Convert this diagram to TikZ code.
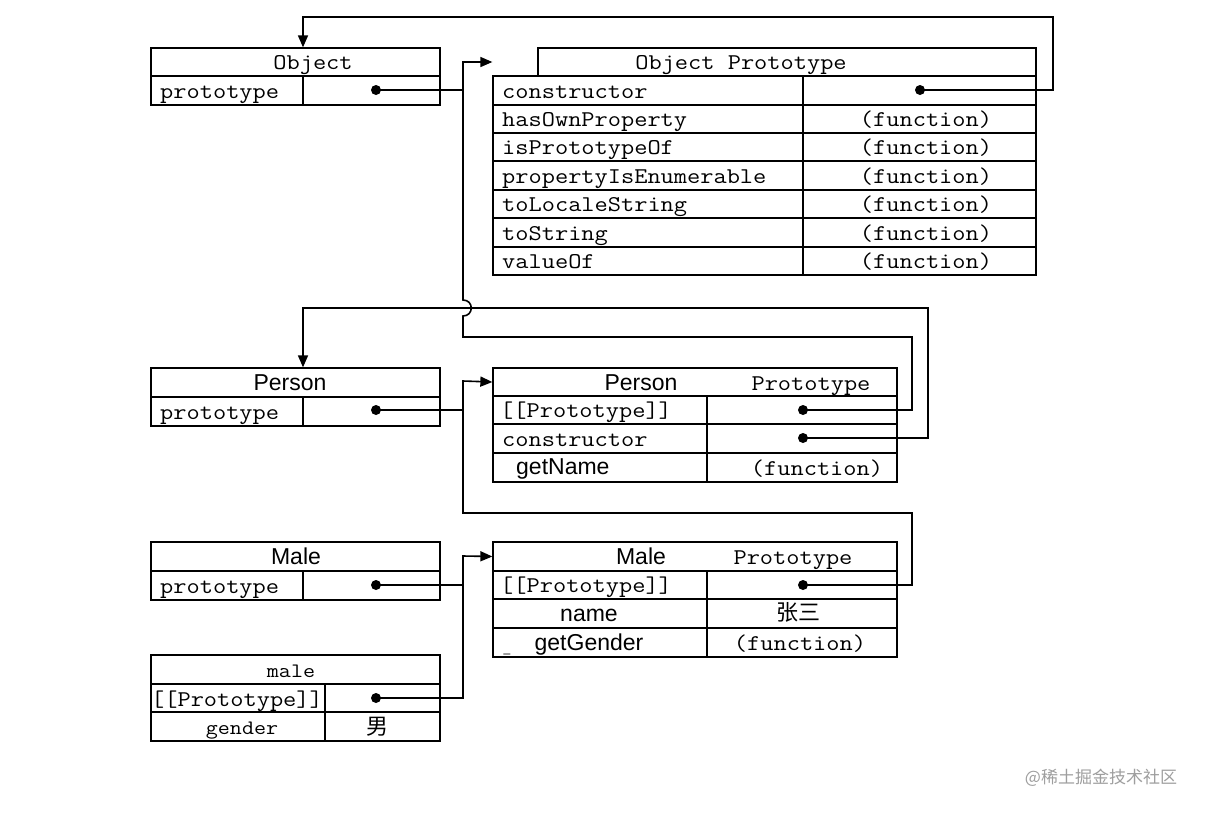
\documentclass[tikz,border=0pt]{standalone}
\usepackage{fontspec}
\setmainfont{Liberation Sans}
\newfontfamily\monof[FakeStretch=1.14]{Latin Modern Mono}
\newfontfamily\cjk{Noto Sans CJK SC}
\usetikzlibrary{fit,arrows.meta}
\tikzset{
  cell/.style={draw, line width=1.3pt, inner sep=0pt},
  mono/.style={font=\monof\fontsize{22.5}{24}\selectfont, inner sep=0pt, anchor=base},
  smono/.style={font=\monof\fontsize{20.5}{22}\selectfont, inner sep=0pt, anchor=base},
  sans/.style={font=\fontsize{23}{25}\selectfont, inner sep=0pt, anchor=base},
  han/.style={font=\cjk\fontsize{22}{24}\selectfont, inner sep=0pt, anchor=base},
  wm/.style={font=\cjk\fontsize{17}{19}\selectfont, text=black!38, inner sep=0pt},
  dot/.style={circle, fill, inner sep=0pt, minimum size=10pt},
  link/.style={line width=1.6pt},
  arr/.style={link, -{Triangle[length=12pt,width=10pt]}},
}
\newcommand\cellbox[5]{\node[cell, fit={(#2,#3) (#4,#5)}] (#1) {};}
\begin{document}
\begin{tikzpicture}[x=1pt,y=-1pt]
\useasboundingbox[fill=white] (0,0) rectangle (1205,812);

% ---- Object
\cellbox{objT}{151}{48}{440}{76}
\cellbox{objA}{151}{76}{303}{105}
\cellbox{objB}{303}{76}{440}{105}
\node[mono] (objTt) at (313,69) {Object};
\node[mono, anchor=base west] (objAt) at (160,98) {prototype};
\node[dot] (objd) at (376,90) {};

% ---- Object Prototype
\cellbox{opT}{538}{48}{1036}{76}
\node[mono] (opTt) at (741,69) {Object Prototype};
\cellbox{opA1}{493}{76}{803}{105}   \cellbox{opB1}{803}{76}{1036}{105}
\cellbox{opA2}{493}{105}{803}{133}  \cellbox{opB2}{803}{105}{1036}{133}
\cellbox{opA3}{493}{133}{803}{161}  \cellbox{opB3}{803}{133}{1036}{161}
\cellbox{opA4}{493}{161}{803}{190}  \cellbox{opB4}{803}{161}{1036}{190}
\cellbox{opA5}{493}{190}{803}{218}  \cellbox{opB5}{803}{190}{1036}{218}
\cellbox{opA6}{493}{218}{803}{247}  \cellbox{opB6}{803}{218}{1036}{247}
\cellbox{opA7}{493}{247}{803}{275}  \cellbox{opB7}{803}{247}{1036}{275}
\node[mono, anchor=base west] (opt1) at (502,98) {constructor};
\node[mono, anchor=base west] (opt2) at (502,126) {hasOwnProperty};
\node[mono, anchor=base west] (opt3) at (502,154) {isPrototypeOf};
\node[mono, anchor=base west] (opt4) at (502,183) {propertyIsEnumerable};
\node[mono, anchor=base west] (opt5) at (502,211) {toLocaleString};
\node[mono, anchor=base west] (opt6) at (502,240) {toString};
\node[mono, anchor=base west] (opt7) at (502,268) {valueOf};
\node[mono] (opf2) at (926,126) {(function)};
\node[mono] (opf3) at (926,154) {(function)};
\node[mono] (opf4) at (926,183) {(function)};
\node[mono] (opf5) at (926,211) {(function)};
\node[mono] (opf6) at (926,240) {(function)};
\node[mono] (opf7) at (926,268) {(function)};
\node[dot] (opcd) at (920,90) {};

% ---- Person
\cellbox{perT}{151}{368}{440}{397}
\cellbox{perA}{151}{397}{303}{426}
\cellbox{perB}{303}{397}{440}{426}
\node[sans] (perTt) at (290,390) {Person};
\node[mono, anchor=base west] (perAt) at (160,419) {prototype};
\node[dot] (perd) at (376,410) {};

% ---- Person Prototype
\cellbox{ppT}{493}{368}{897}{396}
\node[sans] (ppTt1) at (641,390) {Person};
\node[mono] (ppTt2) at (811,390) {Prototype};
\cellbox{ppA1}{493}{396}{707}{424}  \cellbox{ppB1}{707}{396}{897}{424}
\cellbox{ppA2}{493}{424}{707}{453}  \cellbox{ppB2}{707}{424}{897}{453}
\cellbox{ppA3}{493}{453}{707}{482}  \cellbox{ppB3}{707}{453}{897}{482}
\node[mono, anchor=base west] (ppt1) at (500,417) {[[Prototype]]};
\node[mono, anchor=base west] (ppt2) at (502,446) {constructor};
\node[sans, anchor=base west] (ppt3) at (516,474) {getName};
\node[mono] (ppf3) at (817,475) {(function)};
\node[dot] (pp1d) at (803,410) {};
\node[dot] (pp2d) at (803,438) {};

% ---- Male
\cellbox{malT}{151}{542}{440}{571}
\cellbox{malA}{151}{571}{303}{600}
\cellbox{malB}{303}{571}{440}{600}
\node[sans] (malTt) at (296,564) {Male};
\node[mono, anchor=base west] (malAt) at (160,593) {prototype};
\node[dot] (mald) at (376,585) {};

% ---- Male Prototype
\cellbox{mpT}{493}{542}{897}{571}
\node[sans] (mpTt1) at (641,564) {Male};
\node[mono] (mpTt2) at (793,564) {Prototype};
\cellbox{mpA1}{493}{571}{707}{599}  \cellbox{mpB1}{707}{571}{897}{599}
\cellbox{mpA2}{493}{599}{707}{628}  \cellbox{mpB2}{707}{599}{897}{628}
\cellbox{mpA3}{493}{628}{707}{657}  \cellbox{mpB3}{707}{628}{897}{657}
\node[mono, anchor=base west] (mpt1) at (500,592) {[[Prototype]]};
\node[sans] (mpt2) at (589,621) {name};
\node[han] (mpv2) at (798,620) {张三};
\node[sans] (mpt3) at (589,650) {getGender};
\node[mono] (mpv3) at (800,650) {(function)};
\node[sans, font=\fontsize{12}{12}\selectfont] (mpu) at (507,652) {\_};
\node[dot] (mp1d) at (803,585) {};

% ---- male
\cellbox{mT}{151}{655}{440}{684}
\cellbox{mA1}{151}{684}{325}{712}  \cellbox{mB1}{325}{684}{440}{712}
\cellbox{mA2}{151}{712}{325}{741}  \cellbox{mB2}{325}{712}{440}{741}
\node[smono] (mTt) at (291,677) {male};
\node[mono] (mt1) at (237,706) {[[Prototype]]};
\node[smono] (mt2) at (242,734) {gender};
\node[han] (mv2) at (377,734) {男};
\node[dot] (md) at (376,698) {};

% ---- connectors
\coordinate (a1) at (1053,17);
\coordinate (b1) at (463,62);
\coordinate (c1) at (912,337);
\coordinate (c2) at (463,337);
\coordinate (d1) at (928,308);
\coordinate (e1) at (463,381);
\coordinate (f1) at (912,513);
\coordinate (f2) at (463,513);
\coordinate (g1) at (463,556);

% Object Prototype.constructor -> Object
\draw[arr] (opcd.center) -| (a1) -| ([xshift=7.5pt]objT.north);
% Object.prototype -> Object Prototype
\draw[arr] (objd.center) -| (b1) -- (opA1.north west |- opT.west);
% Person Prototype.[[Prototype]] -> Object Prototype (with hop)
\draw[link] (pp1d.center) -| (c1) -- (c2) -- (463,316)
  .. controls (474,316) and (474,300) .. (463,300) -- (objd.center -| b1);
% Person Prototype.constructor -> Person
\draw[arr] (pp2d.center) -| (d1) -| ([xshift=7.5pt]perT.north);
% Person.prototype -> Person Prototype
\draw[arr] (perd.center) -| (e1) -- (ppT.west);
% Male Prototype.[[Prototype]] -> Person Prototype
\draw[link] (mp1d.center) -| (f1) -- (f2) -- (f2 |- perd.center);
% Male.prototype -> Male Prototype
\draw[arr] (mald.center) -| (g1) -- (mpT.west);
% male.[[Prototype]] -> Male Prototype
\draw[link] (md.center) -| (g1 |- mald.center);

% watermark
\node[wm] (wmk) at (1101,778) {@稀土掘金技术社区};
\end{tikzpicture}
\end{document}
